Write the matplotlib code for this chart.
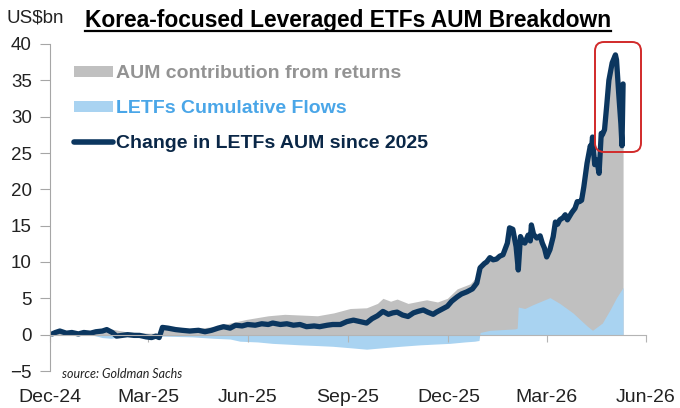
import numpy as np
import matplotlib
matplotlib.use("Agg")
import matplotlib.pyplot as plt
from matplotlib.lines import Line2D
from matplotlib.patches import Patch, FancyBboxPatch
from matplotlib.transforms import IdentityTransform

plt.rcParams['font.family'] = ['Liberation Sans', 'DejaVu Sans']

# x = days after 31-Dec-2024 (axis runs Dec-24 .. Jun-26)
aum_days = [2, 5, 9, 15, 20, 26, 31, 37, 42, 48, 52, 57, 61, 66, 71, 77, 82, 88, 93, 97,
            100, 103, 108, 115, 121, 128, 136, 142, 148, 154, 159, 165, 170, 176, 181, 188,
            194, 200, 204, 211, 217, 223, 229, 235, 242, 247, 254, 259, 266, 272, 278, 284,
            290, 295, 300, 305, 310, 314, 318, 323, 328, 333, 337, 342, 346, 351, 354, 359,
            364, 368, 373, 377, 382, 387, 391, 394, 398, 400, 403, 406, 409, 412, 415, 419,
            421, 424, 427, 429, 431, 433, 435, 438, 440, 441, 443, 446, 449, 451, 453, 455,
            458, 461, 463, 465, 467, 470, 472, 474, 478, 481, 483, 485, 487, 489, 492, 495,
            496, 497, 499, 501, 503, 505, 506, 508, 510, 512, 515, 518, 519, 521, 523, 524, 525]
# Change in LETFs AUM since 2025 (US$bn)
aum_change = [0.1, 0.3, 0.5, 0.2, 0.3, 0.1, 0.3, 0.2, 0.4, 0.5, 0.7, 0.3, -0.2, -0.1, 0.0, -0.1,
              -0.1, -0.3, -0.4, -0.2, -0.4, 1.0, 0.9, 0.7, 0.6, 0.5, 0.6, 0.4, 0.6, 0.9, 1.1, 0.9,
              1.3, 1.2, 1.4, 1.3, 1.5, 1.4, 1.6, 1.4, 1.5, 1.3, 1.4, 1.1, 1.2, 1.1, 1.3, 1.4, 1.4,
              1.8, 2.0, 1.8, 1.6, 2.2, 2.6, 3.2, 2.8, 3.0, 3.1, 2.7, 2.5, 3.0, 3.2, 3.4, 3.1, 2.8,
              3.1, 3.5, 3.9, 4.6, 5.2, 5.6, 5.9, 6.3, 7.1, 9.2, 9.8, 10.0, 10.6, 10.3, 10.4, 10.8,
              11.0, 12.6, 14.7, 14.5, 12.1, 8.9, 13.5, 12.8, 12.6, 13.7, 12.9, 15.1, 13.8, 13.3,
              13.6, 12.6, 11.9, 10.7, 11.7, 13.5, 15.5, 15.2, 15.8, 16.1, 16.5, 15.8, 16.8, 17.4,
              18.3, 18.3, 18.5, 20.3, 23.6, 26.0, 25.4, 27.2, 23.4, 24.0, 22.2, 27.7, 27.5, 28.2,
              31.5, 35.0, 37.4, 38.5, 37.8, 33.2, 29.0, 26.0, 34.5]

# top of the grey returns area where it sticks out above the line (flows negative)
ret_days = [2, 20, 40, 55, 70, 90, 100, 103, 130, 150, 165, 180, 200, 215, 230, 245, 260,
            275, 290, 300, 305, 312, 318, 328, 338, 345, 355, 364, 373, 385, 391, 394]
ret_top = [0.2, 0.4, 0.5, 0.8, 0.4, 0.2, 0.2, 1.2, 0.8, 1.1, 1.6, 2.1, 2.6, 2.8, 2.7, 2.6, 3.0,
           3.6, 3.7, 4.3, 5.0, 4.6, 4.9, 4.3, 4.6, 4.8, 4.5, 5.0, 6.3, 7.0, 8.0, 9.5]

# LETFs cumulative flows (US$bn)
flow_days = [2, 20, 40, 48, 56, 64, 72, 90, 100, 103, 130, 150, 165, 174, 190, 204, 217, 229,
             245, 259, 275, 290, 305, 321, 339, 352, 366, 380, 389, 393, 394, 403, 415, 426,
             428, 429, 435, 442, 450, 458, 467, 479, 492, 497, 506, 513, 519, 525]
flows = [0.0, -0.1, -0.1, -0.4, -0.5, -0.3, -0.1, -0.1, -0.1, -0.2, -0.3, -0.5, -0.6, -0.9,
         -1.0, -1.2, -1.3, -1.4, -1.5, -1.6, -1.8, -2.0, -1.8, -1.6, -1.4, -1.3, -1.2, -1.0,
         -0.9, -0.8, 0.3, 0.6, 0.7, 0.8, 0.9, 3.8, 3.6, 4.1, 4.6, 5.1, 4.3, 3.0, 1.2, 0.6, 1.6,
         3.4, 5.1, 6.5]

tick_days = [0, 90, 181, 273, 365, 455, 546]
tick_labels = ["Dec-24", "Mar-25", "Jun-25", "Sep-25", "Dec-25", "Mar-26", "Jun-26"]

GREY = "#c0c0c0"
BLUE = "#a9d3f1"
NAVY = "#0b365f"

fig = plt.figure(figsize=(6.8, 4.08), dpi=100)
ax = fig.add_axes([50 / 680, 37 / 408, 596 / 680, 327 / 408])

ax.fill_between(ret_days, 0, ret_top, color=GREY, lw=0)
ax.fill_between(aum_days, 0, aum_change, color=GREY, lw=0)
ax.fill_between(flow_days, 0, flows, color=BLUE, lw=0)
ax.plot(aum_days, aum_change, color=NAVY, lw=3.8, solid_joinstyle="round",
        solid_capstyle="round")

ax.set_xlim(0, 546)
ax.set_ylim(-5, 40)
ax.set_yticks(range(-5, 41, 5))
ax.set_xticks(tick_days)
ax.set_xticklabels(tick_labels)

for s in ["top", "right"]:
    ax.spines[s].set_visible(False)
ax.spines["left"].set_color("#a6a6a6")
ax.spines["bottom"].set_position(("data", 0))
ax.spines["bottom"].set_color("#b4b4b4")
ax.tick_params(axis="y", direction="out", length=7, color="#a6a6a6", pad=6,
               labelsize=13.5, labelcolor="#222222")
ax.tick_params(axis="x", direction="out", length=5, color="#b4b4b4", pad=34,
               labelsize=14, labelcolor="#222222")

handles = [Patch(facecolor=GREY, edgecolor="none"),
           Patch(facecolor=BLUE, edgecolor="none"),
           Line2D([], [], color=NAVY, lw=4, solid_capstyle="round")]
labels = ["AUM contribution from returns", "LETFs Cumulative Flows",
          "Change in LETFs AUM since 2025"]
leg = ax.legend(handles, labels, loc="upper left", bbox_to_anchor=(0.04, 0.935),
                frameon=False, prop={"weight": "bold", "size": 14}, handlelength=2.0,
                handleheight=0.55, handletextpad=0.15, labelspacing=0.93,
                borderpad=0, borderaxespad=0)
for txt, c in zip(leg.get_texts(), ["#939393", "#4aa6e8", "#0a2747"]):
    txt.set_color(c)

fig.text(7 / 680, 1 - 23 / 408, "US$bn", fontsize=13.5, color="#222222", va="baseline")
title = fig.text(85 / 680, 1 - 27 / 408, "Korea-focused Leveraged ETFs AUM Breakdown",
                 fontsize=16.4, weight="bold", color="black", va="baseline")
fig.text(62 / 680, 1 - 378 / 408, "source: Goldman Sachs", fontsize=9, style="italic",
         family=["Lato", "DejaVu Sans"], color="#222222", va="baseline")

# underline the title
fig.canvas.draw()
bb = title.get_window_extent()
fig.add_artist(Line2D([bb.x0, bb.x1], [408 - 31, 408 - 31], color="black", lw=1.6,
                      transform=IdentityTransform()))

# red highlight box around the recent spike
fig.add_artist(FancyBboxPatch((595, 408 - 152), 46, 110,
                              boxstyle="round,pad=0,rounding_size=9",
                              fill=False, edgecolor="#d12a2a", lw=1.4,
                              transform=IdentityTransform()))

fig.savefig("out.png", dpi=100, facecolor="white")
